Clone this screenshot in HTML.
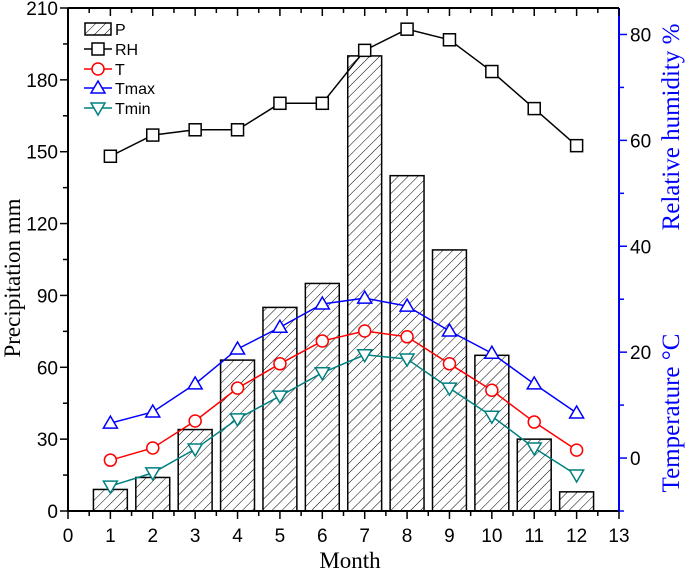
<!DOCTYPE html>
<html><head><meta charset="utf-8"><style>
body{margin:0;background:#fff}
svg{display:block;font-family:"Liberation Sans",Arial,sans-serif}
.serif{font-family:"Liberation Serif","Times New Roman",serif}
</style></head><body>
<svg id="chart" width="685" height="573" viewBox="0 0 685 573" xmlns="http://www.w3.org/2000/svg">
<defs>
<pattern id="hatch" patternUnits="userSpaceOnUse" width="7" height="7" patternTransform="rotate(45)">
<line x1="0" y1="0" x2="0" y2="7" stroke="#000" stroke-width="1"/>
</pattern>
</defs>
<g id="plot"></g>
</svg>
<script>
const months=[1,2,3,4,5,6,7,8,9,10,11,12];
const precip=[9,14,34,63,85,95,190,140,109,65,30,8];
const rh=[57,61,62,62,67,67,77,81,79,73,66,59];
const tmean=[-0.4,1.9,7,13.2,17.8,22.1,24,22.9,17.8,12.8,6.8,1.5];
const tmax=[6.6,8.7,14,20.6,24.7,29.1,30.2,28.7,24,19.8,14,8.5];
const tmin=[-5.3,-2.8,1.7,7.4,11.7,16.1,19.5,18.7,13.2,7.9,1.9,-3.2];
const xTicks=[0,1,2,3,4,5,6,7,8,9,10,11,12,13];
const leftTicks=[0,30,60,90,120,150,180,210];
const rightTicks=[0,20,40,60,80];

const L=68,R=619,T=8,B=511;
const xs=v=>L+(v/13)*(R-L);
const yl=v=>B-(v/210)*(B-T);
const yr=v=>B-((v+10)/95)*(B-T);
const NS="http://www.w3.org/2000/svg";
const g=document.getElementById('plot');
function el(tag,attrs,parent){const e=document.createElementNS(NS,tag);for(const k in attrs)e.setAttribute(k,attrs[k]);(parent||g).appendChild(e);return e;}

const bw=(xs(1)-xs(0))*0.8;
precip.forEach((p,i)=>{
  const b=el('rect',{x:xs(months[i])-bw/2,y:yl(p),width:bw,height:yl(0)-yl(p),fill:'url(#hatch)',stroke:'#000','stroke-width':1.5});
  
  
});

function series(vals,color,marker,name){
  const pts=vals.map((v,i)=>[xs(months[i]),yr(v)]);
  const pl=el('polyline',{points:pts.map(p=>p.join(',')).join(' '),fill:'none',stroke:color,'stroke-width':1.5});
  
  
  pts.forEach((p,i)=>{
    const m=drawMarker(p[0],p[1],color,marker);
    
    
  });
}
function drawMarker(x,y,color,marker){
  if(marker==='sq')return el('rect',{x:x-6,y:y-6,width:12,height:12,fill:'#fff',stroke:color,'stroke-width':1.5});
  if(marker==='c')return el('circle',{cx:x,cy:y,r:6,fill:'#fff',stroke:color,'stroke-width':1.5});
  if(marker==='up')return el('polygon',{points:`${x},${y-7} ${x-7},${y+5} ${x+7},${y+5}`,fill:'#fff',stroke:color,'stroke-width':1.5});
  return el('polygon',{points:`${x},${y+7} ${x-7},${y-5} ${x+7},${y-5}`,fill:'#fff',stroke:color,'stroke-width':1.5});
}
series(rh,'#000','sq','rh');
series(tmax,'#0000ff','up','tmax');
series(tmean,'#ff0000','c','tmean');
series(tmin,'#008080','dn','tmin');

const ax=el('g',{});
el('line',{x1:L,y1:T,x2:L,y2:B,stroke:'#000','stroke-width':2},ax);
el('line',{x1:L,y1:B,x2:R,y2:B,stroke:'#000','stroke-width':2},ax);
el('line',{x1:L,y1:T,x2:R,y2:T,stroke:'#000','stroke-width':2},ax);
el('line',{x1:R,y1:T,x2:R,y2:B,stroke:'#0000ff','stroke-width':2},ax);
xTicks.forEach(v=>{
  const x=xs(v);
  el('line',{x1:x,y1:B,x2:x,y2:B+8,stroke:'#000','stroke-width':1.5},ax);
  el('line',{x1:x,y1:T,x2:x,y2:T+8,stroke:'#000','stroke-width':1.5},ax);
  if(v<13){const xm=xs(v+0.5);
    el('line',{x1:xm,y1:B,x2:xm,y2:B+5,stroke:'#000','stroke-width':1.5},ax);
    el('line',{x1:xm,y1:T,x2:xm,y2:T+5,stroke:'#000','stroke-width':1.5},ax);}
  const t=el('text',{x:x,y:B+31,'font-size':19,'text-anchor':'middle'},ax);t.textContent=v;
  
  
});
leftTicks.forEach(v=>{
  const y=yl(v);
  el('line',{x1:L-8,y1:y,x2:L,y2:y,stroke:'#000','stroke-width':1.5},ax);
  if(v<210){const ym=yl(v+15);el('line',{x1:L-5,y1:ym,x2:L,y2:ym,stroke:'#000','stroke-width':1.5},ax);}
  const t=el('text',{x:L-10,y:y+7,'font-size':19,'text-anchor':'end'},ax);t.textContent=v;
  
  
});
rightTicks.forEach(v=>{
  const y=yr(v);
  el('line',{x1:R,y1:y,x2:R+8,y2:y,stroke:'#0000ff','stroke-width':1.5},ax);
  const t=el('text',{x:R+11,y:y+7,'font-size':19},ax);t.textContent=v;
  
  
});
[-10,10,30,50,70].forEach(v=>{const y=yr(v);el('line',{x1:R,y1:y,x2:R+5,y2:y,stroke:'#0000ff','stroke-width':1.5},ax);});

let t=el('text',{x:350,y:568,'font-size':23,'text-anchor':'middle',class:'serif'});t.textContent='Month';

t=el('text',{x:0,y:0,'font-size':23,'text-anchor':'middle',class:'serif',transform:'translate(20,278) rotate(-90)'});t.textContent='Precipitation mm';

t=el('text',{x:0,y:0,'font-size':25,'text-anchor':'middle',class:'serif',fill:'#0000ff',transform:'translate(679,127) rotate(-90)'});t.textContent='Relative  humidity %';

t=el('text',{x:0,y:0,'font-size':25,'text-anchor':'middle',class:'serif',fill:'#0000ff',transform:'translate(679,413) rotate(-90)'});t.textContent='Temperature °C';


const lg=el('g',{});
el('rect',{x:85,y:23,width:26,height:12,fill:'url(#hatch)',stroke:'#000','stroke-width':1.5},lg);
const items=[['P',29],['RH',49],['T',69],['Tmax',88],['Tmin',108]];
const lcol=[null,'#000','#ff0000','#0000ff','#008080'];const lm=[null,'sq','c','up','dn'];
items.forEach((it,i)=>{
  if(i>0){el('line',{x1:84,y1:it[1],x2:112,y2:it[1],stroke:lcol[i],'stroke-width':1.5},lg);drawMarker(98,it[1],lcol[i],lm[i]);}
  const tx=el('text',{x:115,y:it[1]+6,'font-size':16},lg);tx.textContent=it[0];
  
  
});
</script>
</body></html>
